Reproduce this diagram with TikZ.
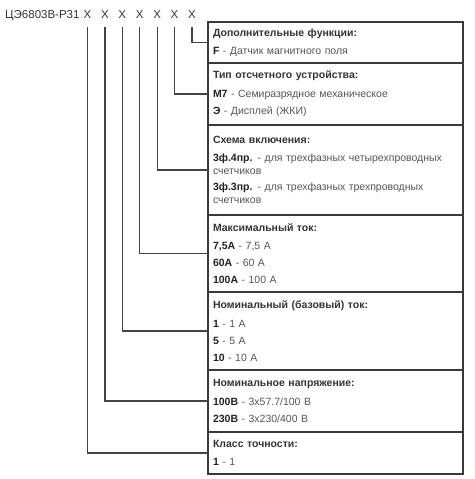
\documentclass[tikz,border=0pt]{standalone}
\usepackage{fontspec}
\setmainfont{Liberation Sans}
\usetikzlibrary{positioning}

\definecolor{boxcol}{HTML}{3A3A3A}
\definecolor{linecol}{HTML}{444444}
\definecolor{titlecol}{HTML}{333333}
\definecolor{codecol}{HTML}{222222}
\definecolor{desccol}{HTML}{555555}

\newcommand{\sectitle}[1]{\textbf{\textcolor{titlecol}{#1}}}
\newcommand{\opt}[2]{\textbf{\textcolor{codecol}{#1}} - #2}

\begin{document}
\begin{tikzpicture}[x=1pt, y=-1pt,
  sect/.style={draw=boxcol, line width=1.3pt, outer sep=0pt, minimum width=255pt,
    text width=245pt, inner xsep=5pt, inner ysep=0pt, align=left,
    font=\fontsize{10.5}{13}\selectfont, text=desccol},
  xmark/.style={anchor=base, inner sep=1pt, outer ysep=8pt, text=titlecol,
    font=\fontsize{11.5}{13}\selectfont},
  conn/.style={draw=linecol, line width=1.2pt}
]
  \useasboundingbox (0,0) rectangle (474,479);

  \node[anchor=base west, inner sep=0pt, text=titlecol,
    font=\fontsize{11.5}{13}\selectfont] (model) at (5,18) {ЦЭ6803В-Р31};
  \foreach \i in {1,...,7}
    \node[xmark] (x\i) at ({87.5+17.4*(\i-1)},18) {X};

  \node[sect, minimum height=41pt, anchor=north west] (s1) at (208,22)
    {\sectitle{Дополнительные функции:}\\[5.5pt]
     \opt{F}{Датчик магнитного поля}};
  \node[sect, minimum height=62pt, below=0pt of s1] (s2)
    {\sectitle{Тип отсчетного устройства:}\\[5.5pt]
     \opt{М7}{Семиразрядное механическое}\\[4.5pt]
     \opt{Э}{Дисплей (ЖКИ)}};
  \node[sect, minimum height=90pt, below=0pt of s2] (s3)
    {\sectitle{Схема включения:}\\[5.5pt]
     \opt{3ф.4пр.}{для трехфазных четырехпроводных}\\
     счетчиков\\[3pt]
     \opt{3ф.3пр.}{для трехфазных трехпроводных}\\
     счетчиков};
  \node[sect, minimum height=77pt, below=0pt of s3] (s4)
    {\sectitle{Максимальный ток:}\\[5.5pt]
     \opt{7,5А}{7,5 А}\\[4pt]
     \opt{60А}{60 А}\\[4pt]
     \opt{100А}{100 А}};
  \node[sect, minimum height=78pt, below=0pt of s4] (s5)
    {\sectitle{Номинальный (базовый) ток:}\\[5.5pt]
     \opt{1}{1 А}\\[4pt]
     \opt{5}{5 А}\\[4pt]
     \opt{10}{10 А}};
  \node[sect, minimum height=62pt, below=0pt of s5] (s6)
    {\sectitle{Номинальное напряжение:}\\[5.5pt]
     \opt{100В}{3х57.7/100 В}\\[4.5pt]
     \opt{230В}{3х230/400 В}};
  \node[sect, minimum height=42pt, below=0pt of s6] (s7)
    {\sectitle{Класс точности:}\\[5.5pt]
     \opt{1}{1}};

  \foreach \i/\j in {1/7,2/6,3/5,4/4,5/3,6/2,7/1}
    \draw[conn] (x\i.south) |- (s\j.west);
\end{tikzpicture}
\end{document}
